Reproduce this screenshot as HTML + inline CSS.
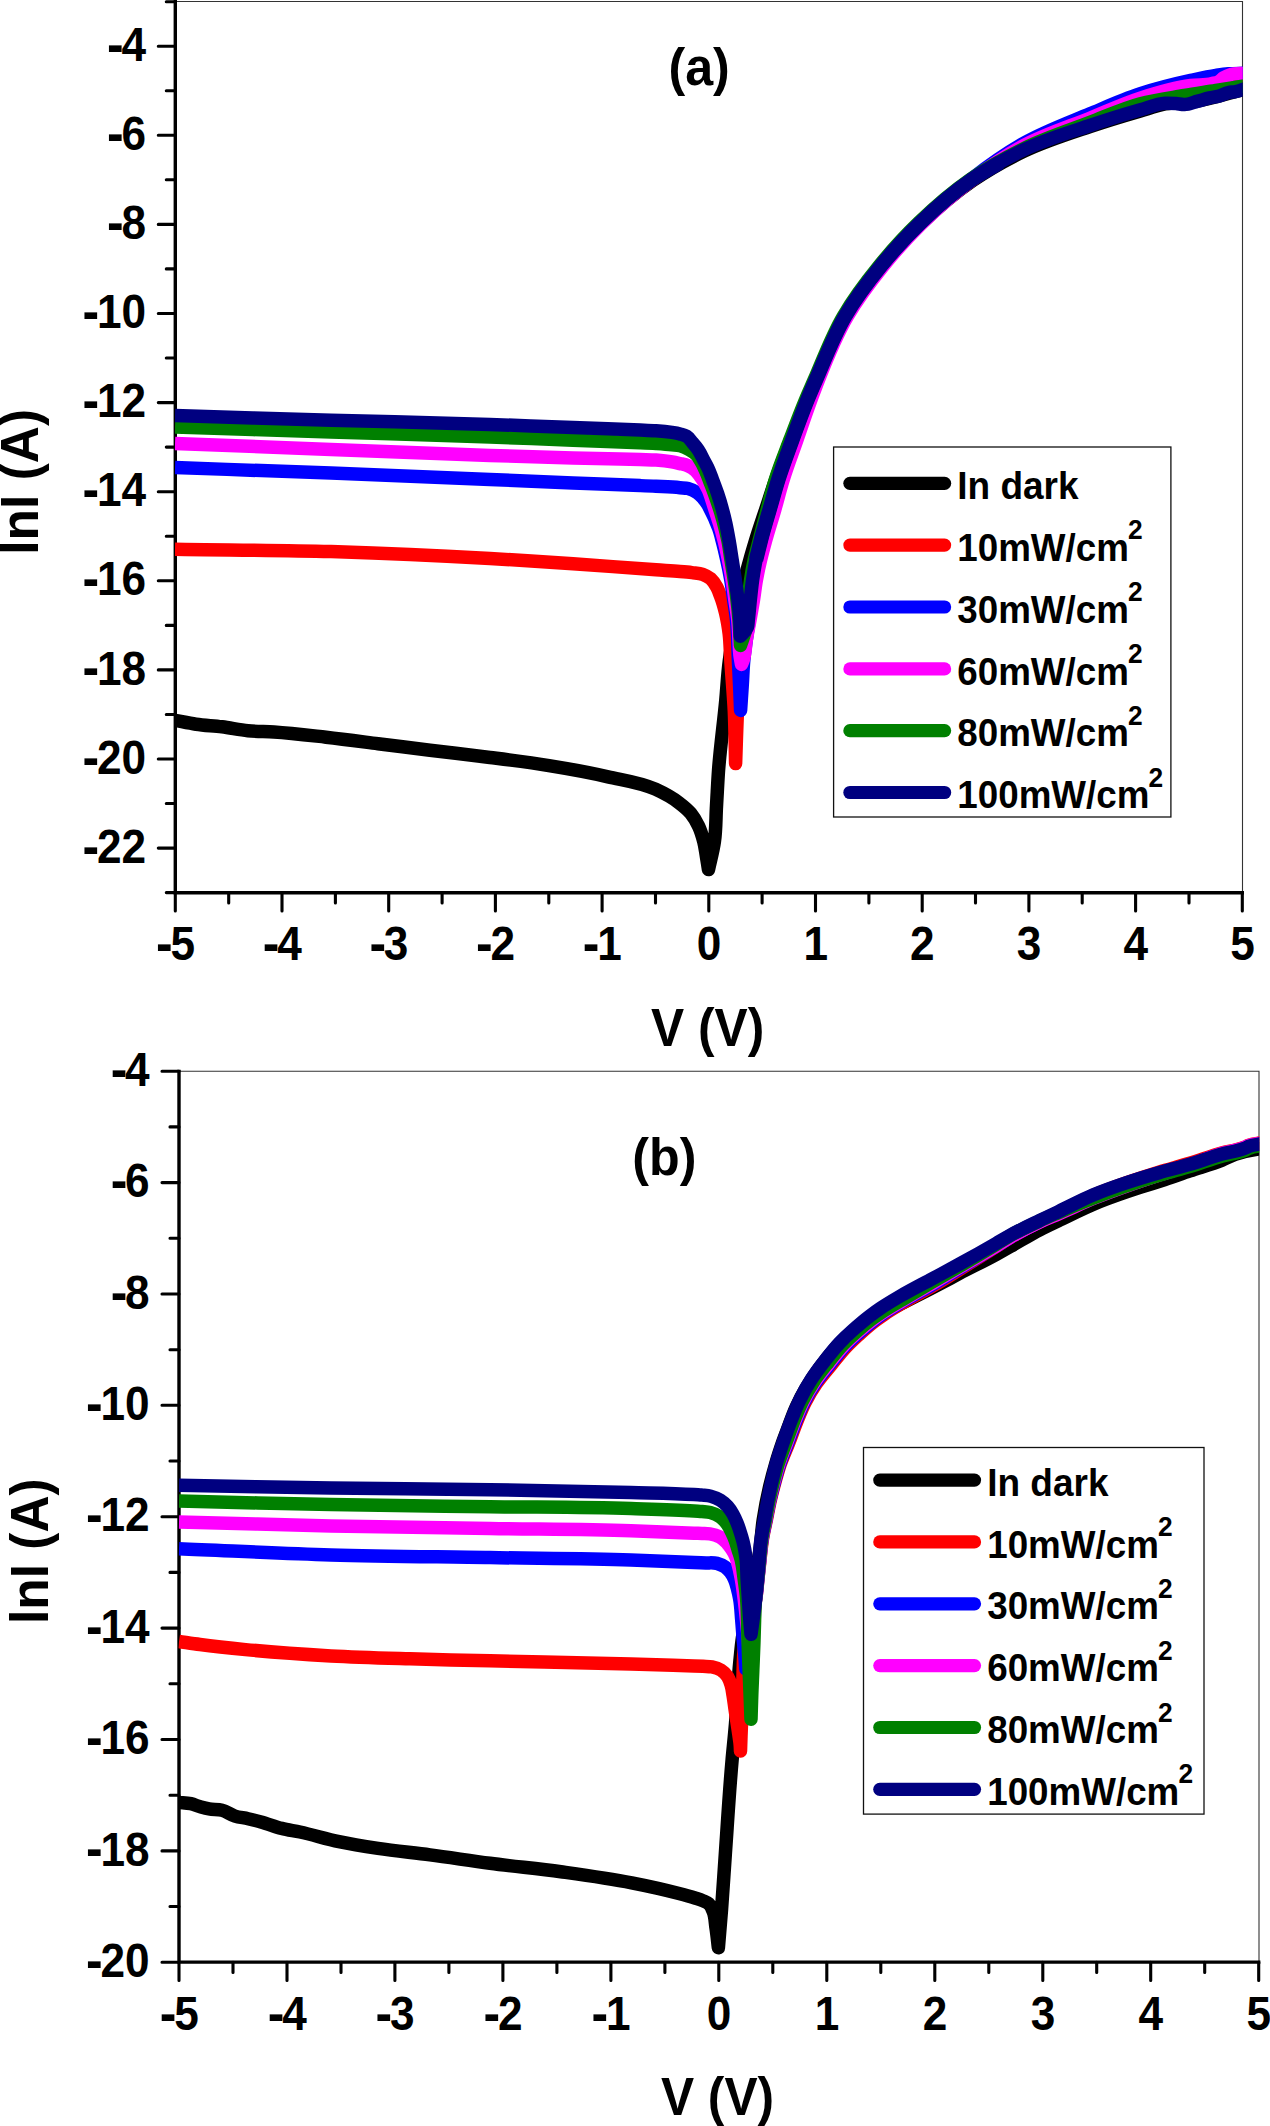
<!DOCTYPE html>
<html lang="en">
<head>
<meta charset="utf-8">
<title>lnI-V characteristics</title>
<style>html,body{margin:0;padding:0;background:#fff}svg{display:block}</style>
</head>
<body>
<svg width="1270" height="2126" viewBox="0 0 1270 2126">
<rect width="1270" height="2126" fill="#fff"/>
<defs>
<clipPath id="ca"><rect x="174.85" y="0" width="1067.9" height="890.9"/></clipPath>
<clipPath id="cb"><rect x="178.55" y="1071" width="1080.6" height="889.3"/></clipPath>
</defs>
<path d="M175.3 1.5H1242.5V892.4" fill="none" stroke="#333" stroke-width="1.1"/>
<path d="M175.3 -2V892.7H1244" fill="none" stroke="#000" stroke-width="3.4"/>
<path d="M175.3 1.7h-9.0M175.3 46.2h-17.0M175.3 90.8h-9.0M175.3 135.3h-17.0M175.3 179.8h-9.0M175.3 224.4h-17.0M175.3 268.9h-9.0M175.3 313.5h-17.0M175.3 358.0h-9.0M175.3 402.6h-17.0M175.3 447.1h-9.0M175.3 491.7h-17.0M175.3 536.2h-9.0M175.3 580.8h-17.0M175.3 625.4h-9.0M175.3 669.9h-17.0M175.3 714.5h-9.0M175.3 759.0h-17.0M175.3 803.5h-9.0M175.3 848.1h-17.0M175.3 892.6h-9.0M175.3 892.7v18.3M228.7 892.7v10.2M282.0 892.7v18.3M335.4 892.7v10.2M388.7 892.7v18.3M442.1 892.7v10.2M495.4 892.7v18.3M548.8 892.7v10.2M602.1 892.7v18.3M655.5 892.7v10.2M708.8 892.7v18.3M762.1 892.7v10.2M815.5 892.7v18.3M868.9 892.7v10.2M922.2 892.7v18.3M975.5 892.7v10.2M1028.9 892.7v18.3M1082.2 892.7v10.2M1135.6 892.7v18.3M1189.0 892.7v10.2M1242.3 892.7v18.3" fill="none" stroke="#000" stroke-width="3.1" stroke-linecap="round"/>
<text transform="translate(146.0 60.8) scale(0.960 1.065)" text-anchor="end" style="font-family:'Liberation Sans',Arial,Helvetica,sans-serif;font-weight:bold;font-size:46px"><tspan dy="1.8" style="font-size:52.0px">-</tspan><tspan dx="-2.3" dy="-1.8">4</tspan></text>
<text transform="translate(146.0 149.9) scale(0.960 1.065)" text-anchor="end" style="font-family:'Liberation Sans',Arial,Helvetica,sans-serif;font-weight:bold;font-size:46px"><tspan dy="1.8" style="font-size:52.0px">-</tspan><tspan dx="-2.3" dy="-1.8">6</tspan></text>
<text transform="translate(146.0 239.0) scale(0.960 1.065)" text-anchor="end" style="font-family:'Liberation Sans',Arial,Helvetica,sans-serif;font-weight:bold;font-size:46px"><tspan dy="1.8" style="font-size:52.0px">-</tspan><tspan dx="-2.3" dy="-1.8">8</tspan></text>
<text transform="translate(146.0 328.1) scale(0.960 1.065)" text-anchor="end" style="font-family:'Liberation Sans',Arial,Helvetica,sans-serif;font-weight:bold;font-size:46px"><tspan dy="1.8" style="font-size:52.0px">-</tspan><tspan dx="-2.3" dy="-1.8">10</tspan></text>
<text transform="translate(146.0 417.2) scale(0.960 1.065)" text-anchor="end" style="font-family:'Liberation Sans',Arial,Helvetica,sans-serif;font-weight:bold;font-size:46px"><tspan dy="1.8" style="font-size:52.0px">-</tspan><tspan dx="-2.3" dy="-1.8">12</tspan></text>
<text transform="translate(146.0 506.3) scale(0.960 1.065)" text-anchor="end" style="font-family:'Liberation Sans',Arial,Helvetica,sans-serif;font-weight:bold;font-size:46px"><tspan dy="1.8" style="font-size:52.0px">-</tspan><tspan dx="-2.3" dy="-1.8">14</tspan></text>
<text transform="translate(146.0 595.4) scale(0.960 1.065)" text-anchor="end" style="font-family:'Liberation Sans',Arial,Helvetica,sans-serif;font-weight:bold;font-size:46px"><tspan dy="1.8" style="font-size:52.0px">-</tspan><tspan dx="-2.3" dy="-1.8">16</tspan></text>
<text transform="translate(146.0 684.5) scale(0.960 1.065)" text-anchor="end" style="font-family:'Liberation Sans',Arial,Helvetica,sans-serif;font-weight:bold;font-size:46px"><tspan dy="1.8" style="font-size:52.0px">-</tspan><tspan dx="-2.3" dy="-1.8">18</tspan></text>
<text transform="translate(146.0 773.6) scale(0.960 1.065)" text-anchor="end" style="font-family:'Liberation Sans',Arial,Helvetica,sans-serif;font-weight:bold;font-size:46px"><tspan dy="1.8" style="font-size:52.0px">-</tspan><tspan dx="-2.3" dy="-1.8">20</tspan></text>
<text transform="translate(146.0 862.7) scale(0.960 1.065)" text-anchor="end" style="font-family:'Liberation Sans',Arial,Helvetica,sans-serif;font-weight:bold;font-size:46px"><tspan dy="1.8" style="font-size:52.0px">-</tspan><tspan dx="-2.3" dy="-1.8">22</tspan></text>
<text transform="translate(175.5 960.3) scale(0.960 1.065)" text-anchor="middle" style="font-family:'Liberation Sans',Arial,Helvetica,sans-serif;font-weight:bold;font-size:46px"><tspan dy="1.8" style="font-size:52.0px">-</tspan><tspan dx="-2.3" dy="-1.8">5</tspan></text>
<text transform="translate(282.2 960.3) scale(0.960 1.065)" text-anchor="middle" style="font-family:'Liberation Sans',Arial,Helvetica,sans-serif;font-weight:bold;font-size:46px"><tspan dy="1.8" style="font-size:52.0px">-</tspan><tspan dx="-2.3" dy="-1.8">4</tspan></text>
<text transform="translate(388.9 960.3) scale(0.960 1.065)" text-anchor="middle" style="font-family:'Liberation Sans',Arial,Helvetica,sans-serif;font-weight:bold;font-size:46px"><tspan dy="1.8" style="font-size:52.0px">-</tspan><tspan dx="-2.3" dy="-1.8">3</tspan></text>
<text transform="translate(495.6 960.3) scale(0.960 1.065)" text-anchor="middle" style="font-family:'Liberation Sans',Arial,Helvetica,sans-serif;font-weight:bold;font-size:46px"><tspan dy="1.8" style="font-size:52.0px">-</tspan><tspan dx="-2.3" dy="-1.8">2</tspan></text>
<text transform="translate(602.3 960.3) scale(0.960 1.065)" text-anchor="middle" style="font-family:'Liberation Sans',Arial,Helvetica,sans-serif;font-weight:bold;font-size:46px"><tspan dy="1.8" style="font-size:52.0px">-</tspan><tspan dx="-2.3" dy="-1.8">1</tspan></text>
<text transform="translate(709.0 960.3) scale(0.960 1.065)" text-anchor="middle" style="font-family:'Liberation Sans',Arial,Helvetica,sans-serif;font-weight:bold;font-size:46px">0</text>
<text transform="translate(815.7 960.3) scale(0.960 1.065)" text-anchor="middle" style="font-family:'Liberation Sans',Arial,Helvetica,sans-serif;font-weight:bold;font-size:46px">1</text>
<text transform="translate(922.4 960.3) scale(0.960 1.065)" text-anchor="middle" style="font-family:'Liberation Sans',Arial,Helvetica,sans-serif;font-weight:bold;font-size:46px">2</text>
<text transform="translate(1029.1 960.3) scale(0.960 1.065)" text-anchor="middle" style="font-family:'Liberation Sans',Arial,Helvetica,sans-serif;font-weight:bold;font-size:46px">3</text>
<text transform="translate(1135.8 960.3) scale(0.960 1.065)" text-anchor="middle" style="font-family:'Liberation Sans',Arial,Helvetica,sans-serif;font-weight:bold;font-size:46px">4</text>
<text transform="translate(1242.5 960.3) scale(0.960 1.065)" text-anchor="middle" style="font-family:'Liberation Sans',Arial,Helvetica,sans-serif;font-weight:bold;font-size:46px">5</text>
<g clip-path="url(#ca)" fill="none" stroke-width="13.5" stroke-linejoin="round" stroke-linecap="butt">
<path d="M175.0 720.3C182.0 721.6 189.0 723.2 196.0 724.2C204.6 725.5 213.4 725.7 222.0 726.8C230.7 727.9 239.3 729.8 248.0 730.7C256.6 731.6 265.3 731.4 274.0 732.0C291.4 733.2 308.7 735.3 326.0 737.2C343.4 739.2 360.7 741.5 378.0 743.7C395.3 745.9 412.7 748.1 430.0 750.2C450.0 752.7 470.0 754.9 490.0 757.5C509.7 760.0 529.4 762.4 549.0 765.6C568.8 768.8 588.5 772.3 608.0 776.8C623.9 780.4 640.5 782.4 655.4 789.2C663.7 793.0 671.8 797.3 679.0 802.8C683.2 806.0 687.4 809.3 690.8 813.4C693.9 817.2 696.4 821.6 698.5 826.0C700.9 831.0 702.4 836.3 703.8 841.7C705.1 846.7 705.6 851.9 706.5 857.0C707.2 861.2 707.8 865.4 708.5 869.6C710.5 860.3 713.1 851.1 714.4 841.7C716.1 829.9 715.8 817.9 716.5 806.0C717.2 794.3 717.7 782.6 718.5 770.9C720.2 747.2 723.6 723.7 725.8 700.0C727.0 686.9 727.6 673.8 729.3 660.8C731.4 644.4 734.9 628.2 738.0 612.0C740.1 601.3 742.0 590.6 744.5 580.0C746.1 573.3 747.9 566.6 749.8 560.0C751.7 553.3 753.7 546.6 755.7 540.0C758.8 529.9 762.2 520.0 765.5 510.0C768.8 500.0 772.0 489.9 775.5 480.0C780.2 466.6 785.4 453.3 790.5 440.0C795.7 426.6 800.8 413.2 806.4 400.0C809.3 393.3 812.2 386.6 815.2 380.0C824.7 358.7 833.1 336.8 845.1 316.8C855.7 299.2 868.2 282.7 881.2 266.8C893.5 251.9 906.6 237.6 920.5 224.2C936.8 208.6 953.9 193.6 972.5 180.8C989.0 169.5 1006.5 159.6 1024.5 151.0C1045.5 141.0 1067.9 134.0 1090.0 126.6C1106.7 121.0 1123.5 115.9 1140.4 111.0C1148.6 108.6 1156.6 105.7 1165.0 104.0C1175.5 101.9 1186.4 102.6 1197.0 101.0C1213.3 98.5 1229.0 93.0 1245.0 89.0" stroke="#000000"/>
<path d="M175.0 549.3C227.0 550.1 279.0 550.1 331.0 551.6C357.3 552.4 383.7 553.4 410.0 554.5C436.7 555.7 463.3 557.0 490.0 558.5C517.7 560.1 545.3 561.9 573.0 563.8C600.7 565.7 628.3 567.8 656.0 569.8C664.0 570.4 672.0 570.8 680.0 571.5C684.0 571.8 688.0 572.1 692.0 572.6C695.6 573.1 699.3 573.1 702.7 574.3C705.5 575.3 708.3 576.7 710.6 578.7C713.2 581.0 715.1 584.1 716.8 587.1C718.3 589.8 719.2 592.7 720.3 595.6C721.3 598.2 722.2 600.8 723.0 603.4C724.0 606.6 724.8 609.9 725.6 613.2C726.4 616.5 727.0 619.8 727.6 623.1C728.2 626.7 728.8 630.4 729.2 634.1C730.2 642.7 730.2 651.4 730.8 660.0C731.9 677.0 733.5 694.0 734.3 711.0C735.1 728.5 735.2 746.1 735.6 763.6C736.2 746.1 736.7 728.5 737.5 711.0C738.3 694.3 738.4 677.6 740.5 661.0C741.7 651.6 743.2 642.3 745.0 633.0C746.1 627.3 747.4 621.7 748.5 616.0C749.5 610.7 750.5 605.4 751.3 600.0C752.3 593.4 752.7 586.6 753.6 580.0C754.6 573.3 755.6 566.6 757.0 560.0C758.4 553.3 760.3 546.6 762.0 540.0C764.6 529.9 767.6 520.0 770.5 510.0C773.4 500.0 776.1 489.9 779.2 480.0C783.5 466.5 788.5 453.3 793.3 440.0C798.2 426.6 803.0 413.2 808.4 400.0C811.1 393.3 814.0 386.6 816.9 380.0C826.2 358.6 834.1 336.4 845.9 316.3C856.3 298.5 868.7 282.0 881.7 266.0C893.9 251.0 906.9 236.6 920.8 223.2C937.0 207.5 954.5 192.9 972.8 179.6C989.2 167.7 1006.1 156.4 1024.0 147.0C1045.0 135.9 1067.9 128.7 1090.0 120.0C1106.7 113.5 1123.3 106.4 1140.4 101.0C1156.9 95.8 1173.9 91.8 1190.8 88.0C1208.7 84.0 1226.9 81.3 1245.0 78.0" stroke="#ff0000"/>
<path d="M175.0 467.6C227.0 469.4 279.0 471.1 331.0 473.0C384.0 475.0 437.0 477.2 490.0 479.4C517.7 480.5 545.3 481.8 573.0 482.9C595.3 483.8 617.7 484.6 640.0 485.6C645.3 485.8 650.7 486.0 656.0 486.3C664.0 486.7 672.0 486.9 680.0 487.7C682.7 488.0 685.5 487.9 688.1 488.6C691.1 489.4 694.1 490.7 696.7 492.4C699.0 493.9 701.0 495.9 702.9 497.9C704.6 499.8 706.1 501.9 707.4 504.0C708.8 506.2 709.8 508.5 711.0 510.8C712.1 512.9 713.1 515.0 714.1 517.2C715.0 519.1 715.7 521.1 716.5 523.1C717.1 524.6 717.8 526.1 718.4 527.6C719.9 531.6 720.9 535.8 722.0 540.0C723.8 546.6 725.3 553.3 726.8 560.0C728.3 566.6 729.6 573.3 730.8 580.0C731.9 586.6 732.7 593.3 733.7 600.0C734.6 606.7 735.8 613.3 736.5 620.0C737.9 633.3 737.8 646.7 738.4 660.0C738.9 670.0 739.4 680.0 739.8 690.0C740.1 696.8 740.3 703.6 740.6 710.4C741.1 702.3 741.7 694.1 742.2 686.0C742.8 677.3 743.0 668.6 743.8 660.0C744.6 651.6 745.8 643.3 747.0 635.0C747.8 629.3 748.8 623.7 749.5 618.0C750.3 612.0 750.8 606.0 751.5 600.0C752.3 593.3 752.9 586.6 753.8 580.0C754.8 573.3 755.8 566.6 757.2 560.0C758.6 553.3 760.5 546.6 762.2 540.0C764.8 529.9 767.8 520.0 770.7 510.0C773.6 500.0 776.3 489.9 779.4 480.0C783.7 466.5 788.7 453.3 793.5 440.0C798.4 426.6 803.2 413.2 808.6 400.0C811.3 393.3 814.2 386.7 817.1 380.0C826.3 358.6 834.2 336.4 845.9 316.3C856.3 298.5 868.7 282.0 881.7 266.0C893.9 251.0 907.0 236.8 920.8 223.2C936.9 207.3 954.0 192.3 972.0 178.5C988.6 165.7 1005.8 153.5 1024.0 143.2C1045.0 131.4 1067.8 123.1 1090.0 113.8C1106.7 106.8 1123.2 99.3 1140.4 93.7C1156.9 88.3 1173.8 84.1 1190.8 80.4C1199.2 78.6 1207.5 76.7 1216.0 75.4C1220.2 74.8 1224.3 74.2 1228.5 73.8C1234.0 73.3 1239.5 73.5 1245.0 73.3" stroke="#0000ff"/>
<path d="M175.0 443.5C227.0 445.5 279.0 447.5 331.0 449.5C384.0 451.5 437.0 453.8 490.0 455.5C517.7 456.4 545.3 457.2 573.0 457.9C588.7 458.3 604.3 458.6 620.0 459.0C626.7 459.2 633.3 459.3 640.0 459.5C645.3 459.7 650.7 459.6 656.0 460.0C661.4 460.4 666.7 460.9 672.0 461.9C674.7 462.4 677.3 463.0 680.0 463.6C682.7 464.2 685.5 464.6 688.0 465.7C690.7 466.9 693.2 468.5 695.4 470.5C697.2 472.2 698.5 474.2 700.0 476.2C701.3 477.9 702.5 479.6 703.6 481.4C705.3 484.1 707.0 486.8 708.3 489.7C709.8 493.0 710.7 496.5 711.9 499.9C713.2 503.8 714.4 507.8 715.7 511.8C717.0 515.7 718.3 519.6 719.5 523.6C721.1 529.0 722.6 534.5 724.0 540.0C725.7 546.6 727.1 553.3 728.5 560.0C729.8 566.6 731.0 573.3 732.1 580.0C733.2 586.6 734.0 593.3 734.9 600.0C735.9 606.7 737.1 613.3 737.8 620.0C738.5 626.6 738.6 633.3 739.0 640.0C739.3 645.0 739.3 650.0 739.9 655.0C740.3 658.2 741.0 661.3 741.5 664.4C742.2 662.6 742.9 660.8 743.5 659.0C745.4 652.9 745.3 646.3 746.3 640.0C747.4 633.3 748.8 626.7 750.0 620.0C751.2 613.3 752.4 606.7 753.5 600.0C754.6 593.3 755.2 586.6 756.4 580.0C757.6 573.3 759.0 566.6 760.6 560.0C762.2 553.3 764.0 546.6 765.8 540.0C768.6 529.9 771.8 520.0 774.7 510.0C777.6 500.0 780.0 489.9 783.1 480.0C787.2 466.5 792.3 453.3 796.9 440.0C801.5 426.7 806.0 413.3 810.9 400.0C813.4 393.3 815.8 386.6 818.4 380.0C826.9 358.3 835.6 336.4 847.4 316.3C857.7 298.7 870.0 282.4 882.8 266.5C894.8 251.6 907.7 237.4 921.3 224.0C937.3 208.1 954.3 193.2 972.3 179.6C988.8 167.2 1005.8 155.3 1024.0 145.5C1045.0 134.2 1067.9 127.1 1090.0 118.2C1106.8 111.4 1123.2 103.6 1140.4 98.1C1156.9 92.8 1173.6 87.8 1190.8 85.5C1197.8 84.5 1205.1 85.3 1212.0 83.6C1214.4 83.0 1216.9 82.7 1219.0 81.5C1220.9 80.5 1222.2 78.6 1224.0 77.5C1225.9 76.4 1227.9 75.5 1230.0 74.8C1234.8 73.2 1240.0 73.8 1245.0 73.3" stroke="#ff00ff"/>
<path d="M175.0 427.1C227.0 428.7 279.0 430.4 331.0 432.0C384.0 433.7 437.0 435.1 490.0 437.0C517.7 438.0 545.3 439.2 573.0 440.2C595.3 441.0 617.7 441.8 640.0 442.7C645.3 442.9 650.7 443.1 656.0 443.4C661.3 443.8 666.7 444.2 672.0 444.8C674.7 445.1 677.4 445.1 680.0 445.8C683.3 446.6 686.4 448.1 689.3 449.8C691.7 451.2 694.1 452.7 696.1 454.6C698.3 456.8 699.8 459.5 701.4 462.2C703.2 465.3 704.6 468.6 706.0 471.9C707.8 476.0 709.3 480.2 710.9 484.4C712.5 488.7 714.2 493.0 715.7 497.4C717.4 502.2 719.0 507.0 720.5 511.8C722.1 517.2 723.6 522.6 725.0 528.1C726.0 532.1 727.0 536.0 727.8 540.0C729.2 546.6 729.9 553.3 731.0 560.0C732.1 566.7 733.2 573.3 734.2 580.0C735.2 586.7 736.2 593.3 737.0 600.0C737.8 606.7 738.5 613.3 739.0 620.0C739.7 628.5 740.0 636.9 740.5 645.4C742.2 640.3 744.4 635.3 745.5 630.0C746.2 626.7 746.4 623.3 746.8 620.0C747.5 613.4 747.7 606.7 748.3 600.0C748.9 593.3 749.6 586.6 750.6 580.0C751.6 573.3 752.8 566.6 754.2 560.0C755.7 553.3 757.6 546.7 759.3 540.0C761.9 530.0 764.5 520.0 767.1 510.0C769.8 500.0 772.1 489.9 775.2 480.0C779.4 466.4 784.8 453.3 789.8 440.0C794.9 426.6 799.9 413.2 805.4 400.0C808.2 393.3 811.2 386.7 814.1 380.0C823.5 358.6 831.4 336.4 843.2 316.3C853.6 298.5 866.0 282.0 879.0 266.0C891.2 251.0 904.2 236.6 918.1 223.2C934.3 207.5 951.5 192.5 970.1 179.6C987.1 167.8 1005.4 157.6 1024.0 148.5C1045.3 138.1 1067.9 130.8 1090.0 122.4C1106.7 116.0 1123.1 108.3 1140.4 103.7C1154.8 99.8 1169.8 98.0 1184.5 95.5C1195.0 93.7 1205.5 92.2 1216.0 90.5C1225.7 88.9 1235.3 87.4 1245.0 85.8" stroke="#008000"/>
<path d="M175.0 415.6C227.0 417.1 279.0 418.7 331.0 420.2C384.0 421.7 437.0 422.8 490.0 424.5C517.7 425.4 545.3 426.4 573.0 427.4C595.3 428.2 617.7 429.0 640.0 430.0C645.3 430.2 650.7 430.3 656.0 430.7C661.3 431.1 666.7 431.6 672.0 432.4C674.7 432.8 677.4 433.2 680.0 433.9C682.1 434.5 684.4 435.0 686.3 436.1C688.9 437.7 690.6 440.4 692.6 442.7C694.6 445.0 696.6 447.4 698.3 450.0C700.7 453.6 702.4 457.7 704.5 461.5C705.6 463.5 706.7 465.5 707.7 467.5C709.5 471.3 710.9 475.3 712.4 479.3C714.2 484.0 716.0 488.7 717.6 493.5C719.2 498.3 720.7 503.1 722.0 508.0C723.4 513.0 724.7 518.1 725.8 523.2C727.0 528.8 728.0 534.4 729.0 540.0C730.2 546.6 731.1 553.3 732.2 560.0C733.2 566.7 734.3 573.3 735.3 580.0C736.3 586.7 737.2 593.3 738.0 600.0C738.7 606.7 739.4 613.3 739.8 620.0C740.1 625.4 740.1 630.8 740.3 636.2C742.6 633.3 746.0 631.0 747.3 627.5C748.2 625.1 748.0 622.5 748.3 620.0C749.1 613.4 749.6 606.7 750.3 600.0C751.0 593.3 751.7 586.6 752.6 580.0C753.6 573.3 754.6 566.6 756.0 560.0C757.4 553.3 759.3 546.6 761.0 540.0C763.6 529.9 766.6 520.0 769.5 510.0C772.4 500.0 775.1 489.9 778.2 480.0C782.5 466.5 787.5 453.3 792.3 440.0C797.2 426.6 802.0 413.2 807.4 400.0C810.1 393.3 813.0 386.6 815.9 380.0C825.2 358.6 833.3 336.5 845.1 316.3C855.5 298.5 867.9 282.0 880.9 266.0C893.1 251.0 906.1 236.6 920.0 223.2C936.2 207.5 953.4 192.5 972.0 179.6C988.5 168.2 1005.9 158.3 1024.0 149.7C1045.2 139.6 1067.8 132.9 1090.0 125.5C1106.7 119.9 1123.5 114.6 1140.4 109.8C1148.6 107.5 1156.5 103.7 1165.0 103.2C1168.7 103.0 1172.3 103.3 1176.0 103.6C1178.8 103.8 1181.7 104.6 1184.5 104.5C1188.8 104.4 1192.8 102.5 1197.0 101.4C1201.2 100.3 1205.3 98.9 1209.6 97.9C1212.5 97.2 1215.6 97.0 1218.5 96.2C1221.9 95.3 1225.0 93.4 1228.5 92.6C1231.0 92.0 1233.5 92.1 1236.0 91.5C1239.1 90.8 1242.0 89.6 1245.0 88.6" stroke="#000080"/>
<path d="M756.0 560.0C757.7 553.3 759.3 546.6 761.0 540.0C763.6 529.9 766.6 520.0 769.5 510.0C772.4 500.0 775.1 489.9 778.2 480.0C782.5 466.5 787.5 453.3 792.3 440.0C797.2 426.6 802.0 413.2 807.4 400.0C810.1 393.3 813.0 386.6 815.9 380.0C825.2 358.6 833.3 336.5 845.1 316.3C855.5 298.5 867.9 282.0 880.9 266.0C893.1 251.0 906.1 236.6 920.0 223.2C936.2 207.5 953.3 192.3 972.0 179.6C981.0 173.5 990.7 168.2 1000.0 162.5" stroke="#000080" stroke-width="14.5"/>
</g>
<rect x="833.6" y="447.0" width="337.3" height="370.0" fill="#fff" stroke="#111" stroke-width="1.3"/>
<line x1="849.9" y1="483.3" x2="944.6" y2="483.3" stroke="#000000" stroke-width="13.2" stroke-linecap="round"/>
<text transform="translate(957.3 498.9) scale(1 1.06)" style="font-family:'Liberation Sans',Arial,Helvetica,sans-serif;font-weight:bold;font-size:37px">In dark</text>
<line x1="849.9" y1="545.1" x2="944.6" y2="545.1" stroke="#ff0000" stroke-width="13.2" stroke-linecap="round"/>
<text transform="translate(957.3 560.8) scale(0.994 1.06)" style="font-family:'Liberation Sans',Arial,Helvetica,sans-serif;font-weight:bold;font-size:37px">10mW/cm<tspan dy="-20.3" dx="-0.8" style="font-size:26.5px">2</tspan></text>
<line x1="849.9" y1="607.0" x2="944.6" y2="607.0" stroke="#0000ff" stroke-width="13.2" stroke-linecap="round"/>
<text transform="translate(957.3 622.6) scale(0.994 1.06)" style="font-family:'Liberation Sans',Arial,Helvetica,sans-serif;font-weight:bold;font-size:37px">30mW/cm<tspan dy="-20.3" dx="-0.8" style="font-size:26.5px">2</tspan></text>
<line x1="849.9" y1="668.9" x2="944.6" y2="668.9" stroke="#ff00ff" stroke-width="13.2" stroke-linecap="round"/>
<text transform="translate(957.3 684.5) scale(0.994 1.06)" style="font-family:'Liberation Sans',Arial,Helvetica,sans-serif;font-weight:bold;font-size:37px">60mW/cm<tspan dy="-20.3" dx="-0.8" style="font-size:26.5px">2</tspan></text>
<line x1="849.9" y1="730.7" x2="944.6" y2="730.7" stroke="#008000" stroke-width="13.2" stroke-linecap="round"/>
<text transform="translate(957.3 746.3) scale(0.994 1.06)" style="font-family:'Liberation Sans',Arial,Helvetica,sans-serif;font-weight:bold;font-size:37px">80mW/cm<tspan dy="-20.3" dx="-0.8" style="font-size:26.5px">2</tspan></text>
<line x1="849.9" y1="792.5" x2="944.6" y2="792.5" stroke="#000080" stroke-width="13.2" stroke-linecap="round"/>
<text transform="translate(957.3 808.1) scale(0.994 1.06)" style="font-family:'Liberation Sans',Arial,Helvetica,sans-serif;font-weight:bold;font-size:37px">100mW/cm<tspan dy="-20.3" dx="-0.8" style="font-size:26.5px">2</tspan></text>
<text transform="translate(699.1 85.0) scale(0.985 1)" text-anchor="middle" style="font-family:'Liberation Sans',Arial,Helvetica,sans-serif;font-weight:bold;font-size:51px">(a)</text>
<text transform="translate(707.7 1045.9) scale(0.965 1.03)" text-anchor="middle" style="font-family:'Liberation Sans',Arial,Helvetica,sans-serif;font-weight:bold;font-size:51.5px">V (V)</text>
<text transform="translate(37.6 481.8) rotate(-90) scale(1 1.03)" text-anchor="middle" style="font-family:'Liberation Sans',Arial,Helvetica,sans-serif;font-weight:bold;font-size:51.5px">lnI (A)</text>
<path d="M179 1071.2H1259V1962.2" fill="none" stroke="#333" stroke-width="1.1"/>
<path d="M179 1069.7V1962.1H1260.4" fill="none" stroke="#000" stroke-width="3.4"/>
<path d="M179.0 1071.2h-17.0M179.0 1126.9h-9.0M179.0 1182.6h-17.0M179.0 1238.3h-9.0M179.0 1294.0h-17.0M179.0 1349.7h-9.0M179.0 1405.3h-17.0M179.0 1461.0h-9.0M179.0 1516.7h-17.0M179.0 1572.4h-9.0M179.0 1628.1h-17.0M179.0 1683.8h-9.0M179.0 1739.5h-17.0M179.0 1795.2h-9.0M179.0 1850.9h-17.0M179.0 1906.5h-9.0M179.0 1962.2h-17.0M179.0 1962.2v18.3M233.0 1962.2v10.2M287.0 1962.2v18.3M341.0 1962.2v10.2M394.9 1962.2v18.3M448.9 1962.2v10.2M502.9 1962.2v18.3M556.9 1962.2v10.2M610.9 1962.2v18.3M664.9 1962.2v10.2M718.8 1962.2v18.3M772.8 1962.2v10.2M826.8 1962.2v18.3M880.8 1962.2v10.2M934.8 1962.2v18.3M988.8 1962.2v10.2M1042.8 1962.2v18.3M1096.7 1962.2v10.2M1150.7 1962.2v18.3M1204.7 1962.2v10.2M1258.7 1962.2v18.3" fill="none" stroke="#000" stroke-width="3.1" stroke-linecap="round"/>
<text transform="translate(149.6 1085.8) scale(0.960 1.065)" text-anchor="end" style="font-family:'Liberation Sans',Arial,Helvetica,sans-serif;font-weight:bold;font-size:46px"><tspan dy="1.8" style="font-size:52.0px">-</tspan><tspan dx="-2.3" dy="-1.8">4</tspan></text>
<text transform="translate(149.6 1197.2) scale(0.960 1.065)" text-anchor="end" style="font-family:'Liberation Sans',Arial,Helvetica,sans-serif;font-weight:bold;font-size:46px"><tspan dy="1.8" style="font-size:52.0px">-</tspan><tspan dx="-2.3" dy="-1.8">6</tspan></text>
<text transform="translate(149.6 1308.6) scale(0.960 1.065)" text-anchor="end" style="font-family:'Liberation Sans',Arial,Helvetica,sans-serif;font-weight:bold;font-size:46px"><tspan dy="1.8" style="font-size:52.0px">-</tspan><tspan dx="-2.3" dy="-1.8">8</tspan></text>
<text transform="translate(149.6 1419.9) scale(0.960 1.065)" text-anchor="end" style="font-family:'Liberation Sans',Arial,Helvetica,sans-serif;font-weight:bold;font-size:46px"><tspan dy="1.8" style="font-size:52.0px">-</tspan><tspan dx="-2.3" dy="-1.8">10</tspan></text>
<text transform="translate(149.6 1531.3) scale(0.960 1.065)" text-anchor="end" style="font-family:'Liberation Sans',Arial,Helvetica,sans-serif;font-weight:bold;font-size:46px"><tspan dy="1.8" style="font-size:52.0px">-</tspan><tspan dx="-2.3" dy="-1.8">12</tspan></text>
<text transform="translate(149.6 1642.7) scale(0.960 1.065)" text-anchor="end" style="font-family:'Liberation Sans',Arial,Helvetica,sans-serif;font-weight:bold;font-size:46px"><tspan dy="1.8" style="font-size:52.0px">-</tspan><tspan dx="-2.3" dy="-1.8">14</tspan></text>
<text transform="translate(149.6 1754.1) scale(0.960 1.065)" text-anchor="end" style="font-family:'Liberation Sans',Arial,Helvetica,sans-serif;font-weight:bold;font-size:46px"><tspan dy="1.8" style="font-size:52.0px">-</tspan><tspan dx="-2.3" dy="-1.8">16</tspan></text>
<text transform="translate(149.6 1865.5) scale(0.960 1.065)" text-anchor="end" style="font-family:'Liberation Sans',Arial,Helvetica,sans-serif;font-weight:bold;font-size:46px"><tspan dy="1.8" style="font-size:52.0px">-</tspan><tspan dx="-2.3" dy="-1.8">18</tspan></text>
<text transform="translate(149.6 1976.8) scale(0.960 1.065)" text-anchor="end" style="font-family:'Liberation Sans',Arial,Helvetica,sans-serif;font-weight:bold;font-size:46px"><tspan dy="1.8" style="font-size:52.0px">-</tspan><tspan dx="-2.3" dy="-1.8">20</tspan></text>
<text transform="translate(179.2 2029.8) scale(0.960 1.065)" text-anchor="middle" style="font-family:'Liberation Sans',Arial,Helvetica,sans-serif;font-weight:bold;font-size:46px"><tspan dy="1.8" style="font-size:52.0px">-</tspan><tspan dx="-2.3" dy="-1.8">5</tspan></text>
<text transform="translate(287.2 2029.8) scale(0.960 1.065)" text-anchor="middle" style="font-family:'Liberation Sans',Arial,Helvetica,sans-serif;font-weight:bold;font-size:46px"><tspan dy="1.8" style="font-size:52.0px">-</tspan><tspan dx="-2.3" dy="-1.8">4</tspan></text>
<text transform="translate(395.1 2029.8) scale(0.960 1.065)" text-anchor="middle" style="font-family:'Liberation Sans',Arial,Helvetica,sans-serif;font-weight:bold;font-size:46px"><tspan dy="1.8" style="font-size:52.0px">-</tspan><tspan dx="-2.3" dy="-1.8">3</tspan></text>
<text transform="translate(503.1 2029.8) scale(0.960 1.065)" text-anchor="middle" style="font-family:'Liberation Sans',Arial,Helvetica,sans-serif;font-weight:bold;font-size:46px"><tspan dy="1.8" style="font-size:52.0px">-</tspan><tspan dx="-2.3" dy="-1.8">2</tspan></text>
<text transform="translate(611.1 2029.8) scale(0.960 1.065)" text-anchor="middle" style="font-family:'Liberation Sans',Arial,Helvetica,sans-serif;font-weight:bold;font-size:46px"><tspan dy="1.8" style="font-size:52.0px">-</tspan><tspan dx="-2.3" dy="-1.8">1</tspan></text>
<text transform="translate(719.0 2029.8) scale(0.960 1.065)" text-anchor="middle" style="font-family:'Liberation Sans',Arial,Helvetica,sans-serif;font-weight:bold;font-size:46px">0</text>
<text transform="translate(827.0 2029.8) scale(0.960 1.065)" text-anchor="middle" style="font-family:'Liberation Sans',Arial,Helvetica,sans-serif;font-weight:bold;font-size:46px">1</text>
<text transform="translate(935.0 2029.8) scale(0.960 1.065)" text-anchor="middle" style="font-family:'Liberation Sans',Arial,Helvetica,sans-serif;font-weight:bold;font-size:46px">2</text>
<text transform="translate(1043.0 2029.8) scale(0.960 1.065)" text-anchor="middle" style="font-family:'Liberation Sans',Arial,Helvetica,sans-serif;font-weight:bold;font-size:46px">3</text>
<text transform="translate(1150.9 2029.8) scale(0.960 1.065)" text-anchor="middle" style="font-family:'Liberation Sans',Arial,Helvetica,sans-serif;font-weight:bold;font-size:46px">4</text>
<text transform="translate(1258.9 2029.8) scale(0.960 1.065)" text-anchor="middle" style="font-family:'Liberation Sans',Arial,Helvetica,sans-serif;font-weight:bold;font-size:46px">5</text>
<g clip-path="url(#cb)" fill="none" stroke-width="13.5" stroke-linejoin="round" stroke-linecap="butt">
<path d="M179.0 1802.4C182.9 1802.8 186.9 1802.8 190.8 1803.7C194.3 1804.5 197.6 1806.1 201.0 1807.0C203.6 1807.7 206.3 1808.4 209.0 1808.9C213.3 1809.7 217.8 1809.1 222.0 1810.2C226.6 1811.4 230.5 1814.7 235.0 1816.1C239.2 1817.4 243.7 1817.7 248.0 1818.7C252.4 1819.7 256.7 1820.7 261.0 1821.9C268.0 1823.8 274.7 1826.6 281.7 1828.4C287.7 1829.9 293.9 1830.7 300.0 1832.0C313.1 1834.8 325.9 1838.9 339.0 1841.6C351.9 1844.3 365.0 1846.4 378.0 1848.4C395.3 1851.0 412.7 1852.6 430.0 1854.9C450.0 1857.5 470.0 1860.7 490.0 1863.3C513.6 1866.4 537.3 1868.5 560.9 1871.7C584.6 1875.0 608.3 1878.2 631.7 1882.8C647.6 1885.9 663.4 1889.3 679.0 1893.5C684.4 1894.9 689.7 1896.3 695.0 1898.0C697.5 1898.8 700.1 1899.5 702.6 1900.6C704.8 1901.6 707.2 1902.3 709.0 1904.0C711.0 1905.8 711.9 1908.5 713.0 1911.0C715.3 1916.3 715.1 1922.3 716.0 1928.0C717.0 1934.6 717.6 1941.2 718.4 1947.8C719.4 1935.2 720.5 1922.6 721.5 1910.0C722.9 1891.5 724.0 1873.0 725.3 1854.5C727.5 1823.0 729.3 1791.5 732.1 1760.0C733.2 1747.9 734.5 1735.8 735.5 1723.7C737.3 1702.8 737.8 1681.7 739.9 1660.8C740.7 1653.2 741.3 1645.6 742.4 1638.0C743.8 1628.6 746.1 1619.3 748.0 1610.0C750.0 1600.0 752.0 1590.0 754.0 1580.0C755.8 1571.3 757.9 1562.7 759.3 1554.0C761.2 1542.7 761.5 1531.3 763.2 1520.0C764.9 1508.7 767.1 1497.5 769.7 1486.4C771.5 1478.8 773.5 1471.3 775.7 1463.9C777.9 1456.3 780.4 1448.8 783.0 1441.3C784.3 1437.5 785.8 1433.8 787.2 1430.0C790.2 1422.1 792.9 1414.0 796.5 1406.3C802.6 1393.1 810.2 1380.6 818.8 1368.8C828.7 1355.2 839.3 1341.8 852.5 1331.5C858.2 1327.1 864.3 1323.2 870.5 1319.5C880.4 1313.5 891.2 1308.8 901.5 1303.5C911.0 1298.6 920.5 1293.9 930.0 1289.0C940.0 1283.8 950.0 1278.4 960.0 1273.1C972.0 1266.8 984.1 1261.0 996.0 1254.5C1000.7 1251.9 1005.3 1249.3 1010.0 1246.7C1020.0 1241.1 1029.8 1235.0 1040.0 1229.7C1046.6 1226.3 1053.3 1223.2 1060.0 1220.0C1073.2 1213.7 1086.4 1207.1 1100.0 1201.6C1113.1 1196.3 1126.6 1191.8 1140.0 1187.4C1148.3 1184.7 1156.7 1182.2 1165.0 1179.5C1173.4 1176.7 1181.7 1173.7 1190.0 1170.9C1200.6 1167.3 1211.6 1164.4 1222.0 1160.2C1226.4 1158.4 1230.5 1156.1 1235.0 1154.5C1242.4 1151.8 1250.2 1150.1 1258.0 1149.0C1259.3 1148.8 1260.7 1148.7 1262.0 1148.5" stroke="#000000"/>
<path d="M179.0 1641.5C186.0 1642.5 193.0 1643.6 200.0 1644.5C215.2 1646.5 230.4 1648.1 245.6 1649.6C274.0 1652.4 302.5 1654.3 331.0 1655.9C357.3 1657.3 383.7 1658.0 410.0 1658.8C436.7 1659.6 463.3 1660.2 490.0 1660.8C537.0 1661.9 584.0 1662.5 631.0 1663.9C652.0 1664.5 673.0 1665.3 694.0 1666.0C697.0 1666.1 700.0 1666.2 703.0 1666.3C706.0 1666.5 709.1 1666.3 712.0 1666.9C715.1 1667.5 718.3 1668.4 721.0 1670.1C723.6 1671.7 725.9 1674.0 727.6 1676.6C729.2 1679.1 730.1 1682.0 731.0 1684.8C732.1 1688.3 732.5 1692.0 733.1 1695.6C733.8 1699.8 734.3 1704.1 734.9 1708.3C735.5 1712.5 736.2 1716.7 736.8 1720.9C737.4 1725.1 738.1 1729.3 738.7 1733.5C739.2 1737.3 739.9 1741.1 740.2 1745.0C740.4 1747.0 740.4 1749.1 740.5 1751.1C740.7 1746.1 740.8 1741.0 741.0 1736.0C741.3 1727.7 741.7 1719.3 742.0 1711.0C742.4 1700.7 742.5 1690.3 742.9 1680.0C743.3 1668.3 743.1 1656.6 744.5 1645.0C745.4 1637.3 746.6 1629.6 748.5 1622.0C750.3 1614.5 753.9 1607.5 755.5 1600.0C756.9 1593.4 757.1 1586.7 757.8 1580.0C758.6 1573.4 759.3 1566.7 760.0 1560.1C760.7 1553.4 761.3 1546.8 762.3 1540.2C763.3 1533.5 764.9 1526.9 766.3 1520.3C767.7 1513.3 768.9 1506.3 770.5 1499.4C771.9 1493.1 773.6 1486.9 775.3 1480.7C776.8 1475.5 778.3 1470.2 780.0 1465.0C782.6 1457.6 785.9 1450.4 788.7 1443.1C791.4 1436.1 793.8 1429.0 796.6 1422.1C799.3 1415.5 801.8 1408.9 805.0 1402.6C808.4 1396.0 812.2 1389.6 816.4 1383.5C820.9 1376.9 826.3 1370.9 831.4 1364.7C836.1 1358.9 840.5 1353.0 845.5 1347.6C849.5 1343.4 853.7 1339.4 857.9 1335.5C863.3 1330.7 868.7 1325.8 874.4 1321.4C877.5 1319.0 880.7 1316.8 883.9 1314.6C890.2 1310.2 896.9 1306.3 903.5 1302.4C913.2 1296.6 923.4 1291.5 933.1 1285.8C943.0 1280.0 952.6 1273.9 962.2 1267.8C973.9 1260.5 985.6 1253.2 997.3 1245.8C1001.8 1242.9 1006.3 1239.9 1010.9 1237.1C1020.4 1231.3 1030.5 1226.4 1040.4 1221.3C1046.7 1218.1 1053.0 1215.1 1059.3 1212.0C1070.6 1206.5 1081.6 1200.3 1093.1 1195.4C1103.9 1190.7 1115.0 1186.8 1126.0 1182.9C1136.9 1179.1 1147.8 1175.6 1158.9 1172.2C1169.1 1169.1 1179.5 1166.4 1189.7 1163.3C1200.4 1160.1 1210.9 1156.1 1221.7 1153.1C1229.0 1151.1 1236.7 1150.5 1243.7 1147.6C1245.4 1146.9 1247.0 1146.0 1248.7 1145.3C1252.9 1143.7 1257.4 1143.5 1261.8 1142.6" stroke="#ff0000"/>
<path d="M179.0 1548.8C229.7 1550.8 280.3 1553.4 331.0 1554.9C384.0 1556.4 437.0 1556.7 490.0 1557.6C537.0 1558.4 584.0 1558.3 631.0 1559.9C652.0 1560.6 673.0 1561.8 694.0 1562.5C698.0 1562.6 702.0 1562.7 706.0 1562.9C709.7 1563.0 713.5 1562.5 717.0 1563.4C719.9 1564.2 722.7 1565.4 725.1 1567.1C727.1 1568.5 728.8 1570.2 730.3 1572.1C732.0 1574.2 733.2 1576.6 734.3 1579.0C735.6 1581.8 736.4 1584.8 737.2 1587.8C738.2 1591.5 739.0 1595.2 739.7 1599.0C740.9 1605.9 741.1 1613.0 741.7 1620.0C742.3 1626.7 742.7 1633.3 743.3 1640.0C743.8 1646.0 744.5 1652.0 745.0 1658.0C745.3 1661.7 745.5 1665.3 745.8 1669.0C746.4 1660.7 746.7 1652.3 747.5 1644.0C748.3 1636.3 749.1 1628.6 750.5 1621.0C751.8 1613.9 754.3 1607.1 755.5 1600.0C756.6 1593.4 757.0 1586.7 757.8 1580.0C758.5 1573.4 759.1 1566.7 759.8 1560.1C760.5 1553.4 761.0 1546.8 762.0 1540.2C763.1 1533.5 764.6 1526.9 765.9 1520.3C767.3 1513.3 768.5 1506.2 770.1 1499.3C771.5 1493.0 773.1 1486.8 774.8 1480.6C776.2 1475.3 777.6 1470.0 779.4 1464.8C781.8 1457.3 785.0 1450.1 787.8 1442.8C790.4 1435.8 792.9 1428.7 795.6 1421.7C798.3 1415.1 800.9 1408.4 804.1 1402.1C807.4 1395.5 811.2 1389.0 815.4 1382.9C819.9 1376.2 825.3 1370.1 830.3 1363.8C835.0 1358.0 839.4 1352.1 844.5 1346.7C848.5 1342.4 852.8 1338.5 857.0 1334.6C862.4 1329.7 867.9 1324.9 873.7 1320.5C876.8 1318.1 880.0 1315.8 883.2 1313.5C889.6 1309.2 896.3 1305.3 902.9 1301.3C912.6 1295.5 922.7 1290.3 932.5 1284.6C942.3 1278.8 952.0 1272.9 961.8 1267.0C973.6 1259.9 985.4 1252.8 997.1 1245.5C1001.7 1242.7 1006.2 1239.7 1010.8 1236.9C1020.4 1231.2 1030.5 1226.3 1040.4 1221.3C1046.7 1218.1 1053.1 1215.2 1059.4 1212.1C1070.7 1206.6 1081.7 1200.5 1093.2 1195.6C1104.0 1191.0 1115.1 1187.1 1126.1 1183.3C1137.0 1179.5 1148.0 1176.2 1159.1 1173.0C1169.4 1170.0 1179.8 1167.6 1190.1 1164.5C1200.8 1161.3 1211.3 1157.2 1222.0 1154.2C1229.3 1152.2 1237.0 1151.6 1244.0 1148.7C1245.7 1147.9 1247.3 1147.0 1249.0 1146.3C1253.1 1144.7 1257.7 1144.5 1262.0 1143.6" stroke="#0000ff"/>
<path d="M179.0 1521.9C229.7 1523.2 280.3 1524.8 331.0 1525.9C384.0 1527.0 437.0 1527.6 490.0 1528.4C537.0 1529.2 584.0 1529.2 631.0 1530.7C652.0 1531.4 673.0 1532.4 694.0 1533.2C696.7 1533.3 699.3 1533.4 702.0 1533.5C704.6 1533.6 707.3 1533.4 709.9 1533.8C713.4 1534.3 716.9 1535.3 720.0 1537.0C722.7 1538.5 724.9 1540.7 727.0 1542.9C728.7 1544.8 730.2 1546.9 731.6 1549.0C733.1 1551.2 734.4 1553.5 735.5 1556.0C736.3 1557.9 736.9 1560.0 737.5 1562.0C739.3 1567.9 740.4 1574.0 741.5 1580.0C742.7 1586.6 743.5 1593.3 744.3 1600.0C745.1 1606.7 745.8 1613.3 746.5 1620.0C747.2 1627.3 748.0 1634.7 748.5 1642.0C748.9 1648.0 749.2 1654.0 749.5 1660.0C750.2 1653.3 750.8 1646.7 751.5 1640.0C752.1 1634.0 752.9 1627.9 753.5 1621.9C754.2 1614.6 754.8 1607.3 755.5 1600.0C756.2 1593.3 757.0 1586.7 757.7 1580.0C758.4 1573.4 759.0 1566.7 759.7 1560.1C760.4 1553.4 760.8 1546.7 761.8 1540.1C762.8 1533.4 764.3 1526.8 765.6 1520.2C767.0 1513.2 768.1 1506.2 769.7 1499.2C771.0 1492.9 772.6 1486.7 774.2 1480.5C775.6 1475.2 777.0 1469.9 778.7 1464.6C781.1 1457.1 784.1 1449.9 786.9 1442.5C789.5 1435.4 792.0 1428.3 794.7 1421.4C797.4 1414.7 800.0 1408.0 803.2 1401.7C806.5 1395.0 810.3 1388.5 814.5 1382.3C819.0 1375.5 824.2 1369.4 829.3 1363.0C834.0 1357.2 838.5 1351.2 843.6 1345.8C847.6 1341.5 851.9 1337.5 856.2 1333.6C861.6 1328.7 867.2 1324.0 873.0 1319.6C876.2 1317.2 879.4 1314.9 882.7 1312.7C889.1 1308.4 895.8 1304.6 902.5 1300.6C912.2 1294.8 922.1 1289.3 932.0 1283.6C941.8 1277.9 951.6 1272.1 961.4 1266.3C973.3 1259.4 985.3 1252.6 997.1 1245.4C1001.7 1242.6 1006.2 1239.6 1010.8 1236.9C1020.4 1231.3 1030.4 1226.1 1040.5 1221.5C1046.9 1218.5 1053.5 1216.0 1059.9 1213.2C1071.4 1208.3 1082.7 1202.8 1094.3 1198.1C1105.1 1193.8 1116.1 1189.8 1127.0 1185.9C1137.8 1182.1 1148.7 1178.5 1159.6 1174.9C1169.8 1171.5 1180.1 1168.4 1190.2 1164.9C1200.8 1161.3 1211.1 1156.7 1221.8 1153.5C1229.1 1151.3 1236.8 1150.6 1243.8 1147.8C1245.5 1147.1 1247.1 1146.2 1248.8 1145.6C1253.0 1144.1 1257.5 1143.9 1261.9 1143.1" stroke="#ff00ff"/>
<path d="M179.0 1501.0C229.7 1502.2 280.3 1503.6 331.0 1504.5C384.0 1505.5 437.0 1506.0 490.0 1506.7C537.0 1507.3 584.0 1507.0 631.0 1508.5C652.0 1509.2 673.0 1509.7 694.0 1511.0C696.7 1511.2 699.3 1511.3 702.0 1511.5C704.8 1511.8 707.6 1511.8 710.3 1512.5C713.9 1513.4 717.4 1514.8 720.4 1517.0C723.0 1518.9 725.2 1521.5 727.1 1524.1C728.9 1526.6 730.3 1529.4 731.7 1532.2C733.0 1534.9 734.2 1537.6 735.2 1540.4C736.3 1543.3 737.0 1546.3 737.9 1549.2C738.9 1552.5 740.1 1555.7 741.0 1559.0C742.8 1565.9 743.3 1573.0 744.3 1580.0C745.2 1586.7 746.2 1593.3 746.7 1600.0C747.2 1606.7 747.3 1613.3 747.5 1620.0C747.7 1626.7 747.8 1633.3 748.0 1640.0C748.4 1653.3 749.0 1666.7 749.5 1680.0C749.8 1686.7 750.0 1693.3 750.3 1700.0C750.5 1706.4 750.8 1712.9 751.0 1719.3C751.2 1712.9 751.4 1706.4 751.6 1700.0C751.9 1690.0 752.4 1680.0 752.8 1670.0C753.2 1660.0 753.7 1650.0 754.0 1640.0C754.2 1633.3 754.4 1626.7 754.6 1620.0C754.9 1613.3 755.0 1606.7 755.5 1600.0C756.0 1593.3 756.9 1586.7 757.6 1580.0C758.3 1573.4 758.9 1566.7 759.5 1560.0C760.2 1553.4 760.6 1546.7 761.6 1540.1C762.5 1533.4 764.1 1526.8 765.3 1520.2C766.6 1513.1 767.8 1506.1 769.3 1499.1C770.6 1492.8 772.1 1486.6 773.7 1480.3C775.1 1475.0 776.4 1469.7 778.0 1464.4C780.4 1456.9 783.3 1449.6 786.0 1442.2C788.6 1435.1 791.1 1428.0 793.8 1421.0C796.5 1414.3 799.1 1407.6 802.3 1401.2C805.6 1394.5 809.4 1388.0 813.5 1381.7C818.0 1374.9 823.2 1368.6 828.3 1362.2C832.9 1356.4 837.5 1350.4 842.6 1344.9C846.7 1340.6 851.0 1336.6 855.4 1332.7C860.8 1327.8 866.4 1323.1 872.3 1318.7C875.5 1316.3 878.8 1314.0 882.1 1311.8C888.5 1307.5 895.3 1303.7 902.0 1299.8C911.7 1294.0 921.6 1288.3 931.4 1282.5C941.2 1276.8 951.1 1271.2 960.9 1265.5C972.8 1258.5 984.6 1251.4 996.4 1244.2C1001.0 1241.4 1005.5 1238.4 1010.1 1235.7C1019.8 1230.1 1030.0 1225.4 1040.1 1220.7C1046.5 1217.7 1053.0 1215.0 1059.4 1212.2C1070.9 1207.2 1082.5 1202.3 1094.2 1197.8C1105.0 1193.5 1115.9 1189.5 1126.9 1185.7C1137.8 1181.9 1148.7 1178.4 1159.7 1175.1C1169.9 1172.0 1180.3 1169.3 1190.6 1166.2C1201.3 1162.9 1211.8 1158.9 1222.5 1155.9C1229.8 1153.9 1237.5 1153.3 1244.5 1150.4C1246.2 1149.7 1247.8 1148.7 1249.5 1148.1C1253.6 1146.5 1258.1 1146.3 1262.4 1145.4" stroke="#008000"/>
<path d="M179.0 1485.3C229.7 1486.2 280.3 1487.2 331.0 1487.9C384.0 1488.7 437.0 1488.8 490.0 1489.7C537.0 1490.5 584.0 1491.3 631.0 1492.6C652.0 1493.2 673.0 1493.4 694.0 1494.6C696.7 1494.8 699.3 1494.9 702.0 1495.1C704.9 1495.4 707.9 1495.5 710.8 1496.2C714.2 1497.1 717.5 1498.4 720.4 1500.2C723.1 1501.9 725.6 1504.1 727.7 1506.5C729.7 1508.8 731.4 1511.4 732.9 1514.0C734.5 1516.8 735.8 1519.8 737.0 1522.8C738.3 1525.9 739.3 1529.0 740.3 1532.2C741.3 1535.2 742.2 1538.3 743.0 1541.4C743.7 1544.2 744.3 1547.1 744.8 1550.0C745.4 1553.3 745.8 1556.7 746.2 1560.0C746.9 1566.6 746.8 1573.3 747.2 1580.0C747.6 1586.7 748.1 1593.3 748.5 1600.0C748.9 1606.7 749.3 1613.3 749.8 1620.0C750.2 1624.8 750.6 1629.5 751.0 1634.3C751.7 1629.5 752.4 1624.8 753.0 1620.0C753.9 1613.3 754.8 1606.7 755.5 1600.0C756.2 1593.3 756.8 1586.7 757.4 1580.0C758.0 1573.3 758.5 1566.7 759.1 1560.0C759.7 1553.3 760.0 1546.6 760.9 1540.0C761.8 1533.3 763.2 1526.7 764.4 1520.0C765.6 1513.0 766.7 1505.9 768.1 1498.9C769.3 1492.6 770.7 1486.3 772.2 1480.0C773.5 1474.6 774.7 1469.2 776.2 1463.9C778.3 1456.3 780.9 1448.8 783.5 1441.3C786.0 1434.2 788.5 1427.0 791.3 1420.0C794.0 1413.3 796.6 1406.5 799.8 1400.0C803.1 1393.1 806.8 1386.4 810.9 1380.0C815.3 1373.0 820.3 1366.5 825.4 1360.0C830.1 1354.0 834.8 1348.0 840.0 1342.5C844.1 1338.1 848.5 1334.0 853.0 1330.0C858.5 1325.1 864.1 1320.3 870.0 1315.8C873.3 1313.3 876.6 1310.9 880.0 1308.6C886.5 1304.2 893.2 1300.3 900.0 1296.3C909.8 1290.6 920.0 1285.4 930.0 1280.0C940.0 1274.6 950.0 1269.3 960.0 1263.8C972.1 1257.2 984.1 1250.4 996.0 1243.5C1000.7 1240.8 1005.3 1238.0 1010.0 1235.4C1019.8 1230.0 1029.9 1225.3 1040.0 1220.4C1046.3 1217.3 1052.7 1214.3 1059.0 1211.3C1070.3 1205.9 1081.4 1199.9 1093.0 1195.0C1103.8 1190.5 1114.9 1186.6 1126.0 1182.9C1136.9 1179.2 1147.9 1175.9 1159.0 1172.7C1169.3 1169.7 1179.7 1167.3 1190.0 1164.3C1200.7 1161.1 1211.2 1157.1 1222.0 1154.1C1229.3 1152.1 1237.0 1151.5 1244.0 1148.6C1245.7 1147.9 1247.3 1147.0 1249.0 1146.3C1253.1 1144.7 1257.7 1144.5 1262.0 1143.6" stroke="#000080"/>
</g>
<rect x="863.5" y="1447.5" width="340.5" height="366.6" fill="#fff" stroke="#111" stroke-width="1.3"/>
<line x1="879.8" y1="1480.1" x2="974.5" y2="1480.1" stroke="#000000" stroke-width="13.2" stroke-linecap="round"/>
<text transform="translate(987.2 1495.7) scale(1 1.06)" style="font-family:'Liberation Sans',Arial,Helvetica,sans-serif;font-weight:bold;font-size:37px">In dark</text>
<line x1="879.8" y1="1541.9" x2="974.5" y2="1541.9" stroke="#ff0000" stroke-width="13.2" stroke-linecap="round"/>
<text transform="translate(987.2 1557.5) scale(0.994 1.06)" style="font-family:'Liberation Sans',Arial,Helvetica,sans-serif;font-weight:bold;font-size:37px">10mW/cm<tspan dy="-20.3" dx="-0.8" style="font-size:26.5px">2</tspan></text>
<line x1="879.8" y1="1603.8" x2="974.5" y2="1603.8" stroke="#0000ff" stroke-width="13.2" stroke-linecap="round"/>
<text transform="translate(987.2 1619.4) scale(0.994 1.06)" style="font-family:'Liberation Sans',Arial,Helvetica,sans-serif;font-weight:bold;font-size:37px">30mW/cm<tspan dy="-20.3" dx="-0.8" style="font-size:26.5px">2</tspan></text>
<line x1="879.8" y1="1665.6" x2="974.5" y2="1665.6" stroke="#ff00ff" stroke-width="13.2" stroke-linecap="round"/>
<text transform="translate(987.2 1681.2) scale(0.994 1.06)" style="font-family:'Liberation Sans',Arial,Helvetica,sans-serif;font-weight:bold;font-size:37px">60mW/cm<tspan dy="-20.3" dx="-0.8" style="font-size:26.5px">2</tspan></text>
<line x1="879.8" y1="1727.5" x2="974.5" y2="1727.5" stroke="#008000" stroke-width="13.2" stroke-linecap="round"/>
<text transform="translate(987.2 1743.1) scale(0.994 1.06)" style="font-family:'Liberation Sans',Arial,Helvetica,sans-serif;font-weight:bold;font-size:37px">80mW/cm<tspan dy="-20.3" dx="-0.8" style="font-size:26.5px">2</tspan></text>
<line x1="879.8" y1="1789.3" x2="974.5" y2="1789.3" stroke="#000080" stroke-width="13.2" stroke-linecap="round"/>
<text transform="translate(987.2 1804.9) scale(0.994 1.06)" style="font-family:'Liberation Sans',Arial,Helvetica,sans-serif;font-weight:bold;font-size:37px">100mW/cm<tspan dy="-20.3" dx="-0.8" style="font-size:26.5px">2</tspan></text>
<text transform="translate(664.4 1175.2) scale(0.985 1)" text-anchor="middle" style="font-family:'Liberation Sans',Arial,Helvetica,sans-serif;font-weight:bold;font-size:51px">(b)</text>
<text transform="translate(717.5 2115.3) scale(0.965 1.03)" text-anchor="middle" style="font-family:'Liberation Sans',Arial,Helvetica,sans-serif;font-weight:bold;font-size:51.5px">V (V)</text>
<text transform="translate(48 1551.2) rotate(-90) scale(1 1.03)" text-anchor="middle" style="font-family:'Liberation Sans',Arial,Helvetica,sans-serif;font-weight:bold;font-size:51.5px">lnI (A)</text>
</svg>
</body>
</html>
